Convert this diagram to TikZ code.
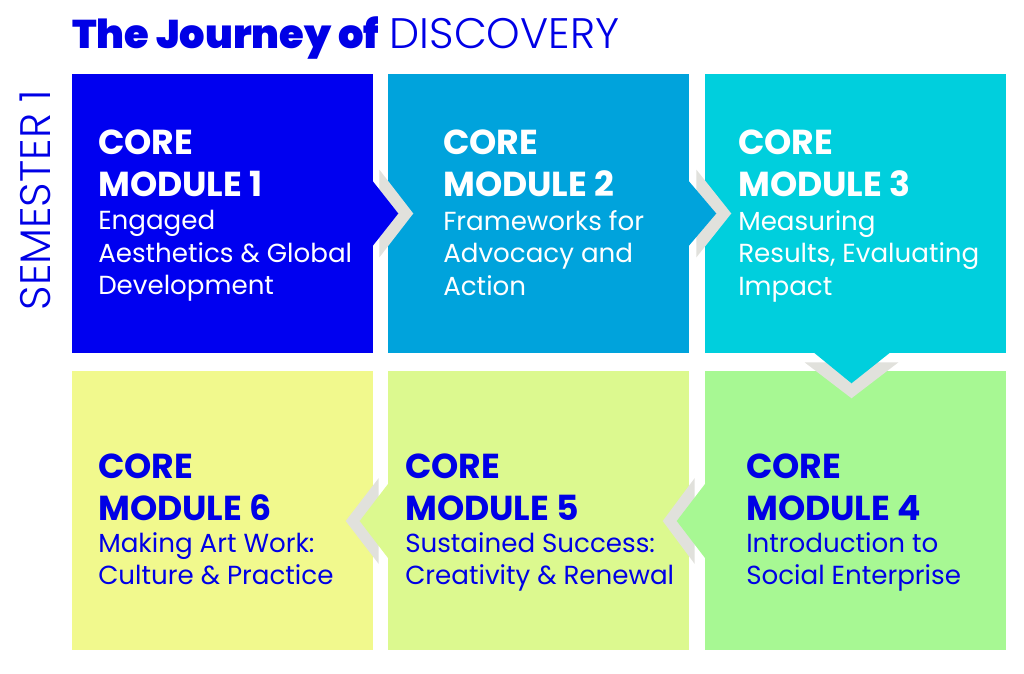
\documentclass[tikz,border=0pt]{standalone}
\usepackage{fontspec}
\usepackage{xcolor}
\usetikzlibrary{positioning, calc}
\setmainfont{Poppins}
\newfontfamily\popleve{Poppins Light}
\newfontfamily\popforte{Poppins Bold}
\newfontfamily\poppesada{Poppins Black}
\definecolor{azulforte}{HTML}{0000F0}
\definecolor{azulmedio}{HTML}{00A3DC}
\definecolor{ciano}{HTML}{00CFDD}
\definecolor{verde}{HTML}{A7F893}
\definecolor{verdeclaro}{HTML}{DCF98F}
\definecolor{amareloclaro}{HTML}{F1F98D}
\definecolor{cinzaseta}{HTML}{E1E1DC}
\definecolor{azultexto}{HTML}{0000E6}

\begin{document}
\begin{tikzpicture}[x=0.75pt, y=-0.75pt,
    modulo/.style={minimum width=225.75pt, minimum height=209.25pt, inner sep=0pt},
    seta/.style={fill=cinzaseta},
    titulo/.style={align=left, anchor=north west, inner sep=0pt, font=\popforte\fontsize{26}{31.5}\selectfont},
    subtitulo/.style={align=left, anchor=north west, inner sep=0pt, font=\fontsize{19.6}{24.4}\selectfont}
]
    \useasboundingbox (0,0) rectangle (1024,674);

    \node[anchor=base west, inner sep=0pt, text=azultexto, font=\fontsize{30}{34}\selectfont] (cabecalho) at (72, 49)
        {{\poppesada The Journey of} {\popleve\fontsize{32}{34}\selectfont DISCOVERY}};
    \node[rotate=90, inner sep=0pt, text=azultexto, font=\popleve\fontsize{32}{36}\selectfont] (semestre) at (35.5, 200) {SEMESTER 1};

    \node[modulo, fill=azulforte] (m1) at (222.5, 213.5) {};
    \node[modulo, fill=azulmedio] (m2) at (538.5, 213.5) {};
    \node[modulo, fill=ciano] (m3) at (855.5, 213.5) {};
    \node[modulo, fill=verde] (m4) at (855.5, 510.5) {};
    \node[modulo, fill=verdeclaro] (m5) at (538.5, 510.5) {};
    \node[modulo, fill=amareloclaro] (m6) at (222.5, 510.5) {};

    % setas entre os modulos
    \fill[seta] ($(m1.east)+(6,-44)$) -- ($(m1.east)+(40,0)$) -- ($(m1.east)+(6,44)$) -- cycle;
    \fill[azulforte] ($(m1.east)+(-1,-33)$) -- ($(m1.east)+(25,0)$) -- ($(m1.east)+(-1,33)$) -- cycle;
    \fill[seta] ($(m2.east)+(7,-44)$) -- ($(m2.east)+(42,0)$) -- ($(m2.east)+(7,44)$) -- cycle;
    \fill[azulmedio] ($(m2.east)+(-1,-33)$) -- ($(m2.east)+(27,0)$) -- ($(m2.east)+(-1,33)$) -- cycle;
    \fill[seta] ($(m3.south)+(-51,9)$) -- ($(m3.south)+(-4,45)$) -- ($(m3.south)+(43,9)$) -- cycle;
    \fill[ciano] ($(m3.south)+(-42,-1)$) -- ($(m3.south)+(-4,30)$) -- ($(m3.south)+(35,-1)$) -- cycle;
    \fill[seta] ($(m4.west)+(-10,-32.5)$) -- ($(m4.west)+(-42,10.5)$) -- ($(m4.west)+(-10,53.5)$) -- cycle;
    \fill[verde] ($(m4.west)+(1,-27.5)$) -- ($(m4.west)+(-28,10.5)$) -- ($(m4.west)+(1,48.5)$) -- cycle;
    \fill[seta] ($(m5.west)+(-9,-32.5)$) -- ($(m5.west)+(-42,10.5)$) -- ($(m5.west)+(-9,53.5)$) -- cycle;
    \fill[verdeclaro] ($(m5.west)+(1,-27.5)$) -- ($(m5.west)+(-28,10.5)$) -- ($(m5.west)+(1,48.5)$) -- cycle;

    \node[titulo, text=white] (t1) at (98, 130) {CORE\\MODULE 1};
    \node[titulo, text=white] (t2) at (443, 130) {CORE\\MODULE 2};
    \node[titulo, text=white] (t3) at (738, 130) {CORE\\MODULE 3};
    \node[titulo, text=azultexto] (t4) at (746, 454) {CORE\\MODULE 4};
    \node[titulo, text=azultexto] (t5) at (405, 454) {CORE\\MODULE 5};
    \node[titulo, text=azultexto] (t6) at (98, 454) {CORE\\MODULE 6};

    \node[subtitulo, text=white] (s1) at (98, 210) {Engaged\\Aesthetics \& Global\\Development};
    \node[subtitulo, text=white] (s2) at (443, 210) {Frameworks for\\Advocacy and\\Action};
    \node[subtitulo, text=white] (s3) at (738, 210) {Measuring\\Results, Evaluating\\Impact};
    \node[subtitulo, text=azultexto] (s4) at (746, 532) {Introduction to\\Social Enterprise};
    \node[subtitulo, text=azultexto] (s5) at (405, 532) {Sustained Success:\\Creativity \& Renewal};
    \node[subtitulo, text=azultexto] (s6) at (98, 532) {Making Art Work:\\Culture \& Practice};
\end{tikzpicture}
\end{document}
